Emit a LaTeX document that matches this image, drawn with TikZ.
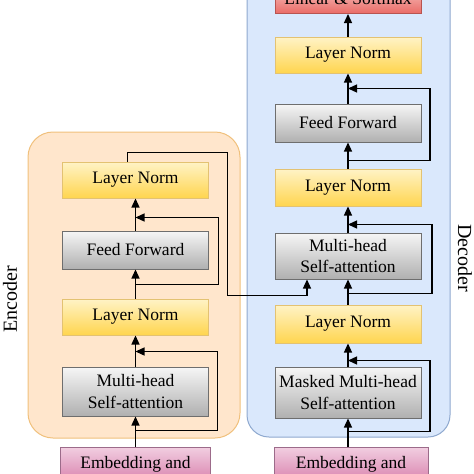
\documentclass[tikz,border=0pt]{standalone}
\usepackage{fontspec}
\setmainfont{Liberation Serif}
\usetikzlibrary{positioning,arrows.meta}

\definecolor{lnTop}{HTML}{FFF3C6}
\definecolor{lnBot}{HTML}{FFD54F}
\definecolor{lnLine}{HTML}{E3C272}
\definecolor{grTop}{HTML}{F6F6F6}
\definecolor{grBot}{HTML}{B0B0B0}
\definecolor{grLine}{HTML}{6E6E6E}
\definecolor{pkTop}{HTML}{F1CDE0}
\definecolor{pkBot}{HTML}{D983AE}
\definecolor{pkLine}{HTML}{9C6B8A}
\definecolor{rdTop}{HTML}{F8CECC}
\definecolor{rdBot}{HTML}{EA6B66}
\definecolor{rdLine}{HTML}{B85450}
\definecolor{encFill}{HTML}{FFE6CC}
\definecolor{encLine}{HTML}{F0C07C}
\definecolor{decFill}{HTML}{DAE8FC}
\definecolor{decLine}{HTML}{8FA9CF}

\tikzset{
	block/.style={draw, line width=1pt, inner sep=0pt, minimum width=146pt, align=center, font=\fontsize{17.5}{21.5}\selectfont},
	lnorm/.style={block, minimum height=36pt, top color=lnTop, bottom color=lnBot, draw=lnLine},
	ffwd/.style={block, minimum height=38pt, top color=grTop, bottom color=grBot, draw=grLine},
	attn/.style={ffwd, minimum height=49pt},
	embed/.style={block, minimum width=150pt, minimum height=34pt, top color=pkTop, bottom color=pkBot, draw=pkLine},
	outbox/.style={block, minimum height=30pt, top color=rdTop, bottom color=rdBot, draw=rdLine},
	encbg/.style={draw=encLine, fill=encFill, line width=1pt, rounded corners=25pt},
	decbg/.style={draw=decLine, fill=decFill, line width=1pt, rounded corners=22pt},
	flow/.style={-{Triangle[length=9pt,width=8pt]}, line width=1.3pt},
	side/.style={font=\fontsize{20}{24}\selectfont},
}

\begin{document}
\begin{tikzpicture}[x=1pt, y=-1pt]
	\clip (0,0) rectangle (474,474);
	
	% Containers
	\draw[encbg] (28,132) rectangle (240,438);
	\draw[decbg] (247,-40) rectangle (450,437);
	\node[side, rotate=90]  (enc_lbl) at (10,299) {Encoder};
	\node[side, rotate=-90] (dec_lbl) at (465,258) {Decoder};
	
	% Encoder nodes
	\node[embed, anchor=north]  (e_emb) at (135.5,447) {Embedding and};
	\node[attn]                 (e_mha) at (135.5,391.5) {Multi-head\\Self-attention};
	\node[lnorm]                (e_ln1) at (135.5,317) {Layer Norm};
	\node[ffwd]                 (e_ff)  at (135.5,250) {Feed Forward};
	\node[lnorm]                (e_ln2) at (135.5,180) {Layer Norm};
	
	% Decoder nodes
	\node[embed, anchor=north, minimum width=154pt] (d_emb) at (351,447) {Embedding and};
	\node[attn, minimum height=51pt]  (d_mmha) at (348,392.5) {Masked Multi-head\\Self-attention};
	\node[lnorm, minimum height=38pt] (d_ln0)  at (348,324) {Layer Norm};
	\node[attn, minimum height=46pt]  (d_mha)  at (348,256) {Multi-head\\Self-attention};
	\node[lnorm, minimum height=37pt] (d_ln1)  at (348,187.5) {Layer Norm};
	\node[ffwd]                       (d_ff)   at (348,123) {Feed Forward};
	\node[lnorm]                      (d_ln2)  at (348,55) {Layer Norm};
	\node[outbox]                     (d_out)  at (348,-1.5) {Linear \& Softmax};
	
	% Branch points
	\coordinate[below=14pt of e_mha] (e_s1);
	\coordinate[above=15pt of e_mha] (e_j1);
	\coordinate[below=15pt of e_ff]  (e_s2);
	\coordinate[above=13pt of e_ff]  (e_j2);
	\coordinate[xshift=-8pt] (e_out) at (e_ln2.north);
	\coordinate[below=13pt of d_mmha] (d_s0);
	\coordinate[above=6pt of d_mmha]  (d_j0);
	\coordinate[below=14pt of d_mha]  (d_s1);
	\coordinate[above=8pt of d_mha]   (d_j1);
	\coordinate[below=18pt of d_ff]   (d_s2);
	\coordinate[above=15pt of d_ff]   (d_j2);
	\coordinate[xshift=-41pt] (d_in) at (d_mha.south);
	
	% Connect the nodes
	\draw[flow] (e_emb) -- (e_mha);
	\draw[flow] (e_mha) -- (e_ln1);
	\draw[flow] (e_ln1) -- (e_ff);
	\draw[flow] (e_ff) -- (e_ln2);
	\draw[flow] (e_s1) -- ++(82,0) |- (e_j1);
	\draw[flow] (e_s2) -- ++(83,0) |- (e_j2);
	
	\draw[flow] (d_emb.north -| d_mmha) -- (d_mmha);
	\draw[flow] (d_mmha) -- (d_ln0);
	\draw[flow] (d_ln0) -- (d_mha);
	\draw[flow] (d_mha) -- (d_ln1);
	\draw[flow] (d_ln1) -- (d_ff);
	\draw[flow] (d_ff) -- (d_ln2);
	\draw[flow] (d_ln2) -- (d_out);
	\draw[flow] (d_s0) -- ++(82,0) |- (d_j0);
	\draw[flow] (d_s1) -- ++(84,0) |- (d_j1);
	\draw[flow] (d_s2) -- ++(82,0) |- (d_j2);
	
	% Encoder to decoder
	\draw[flow] (e_out) -- ++(0,-9) -- ++(100,0) -- ++(0,143) -| (d_in);
	
\end{tikzpicture}
\end{document}
